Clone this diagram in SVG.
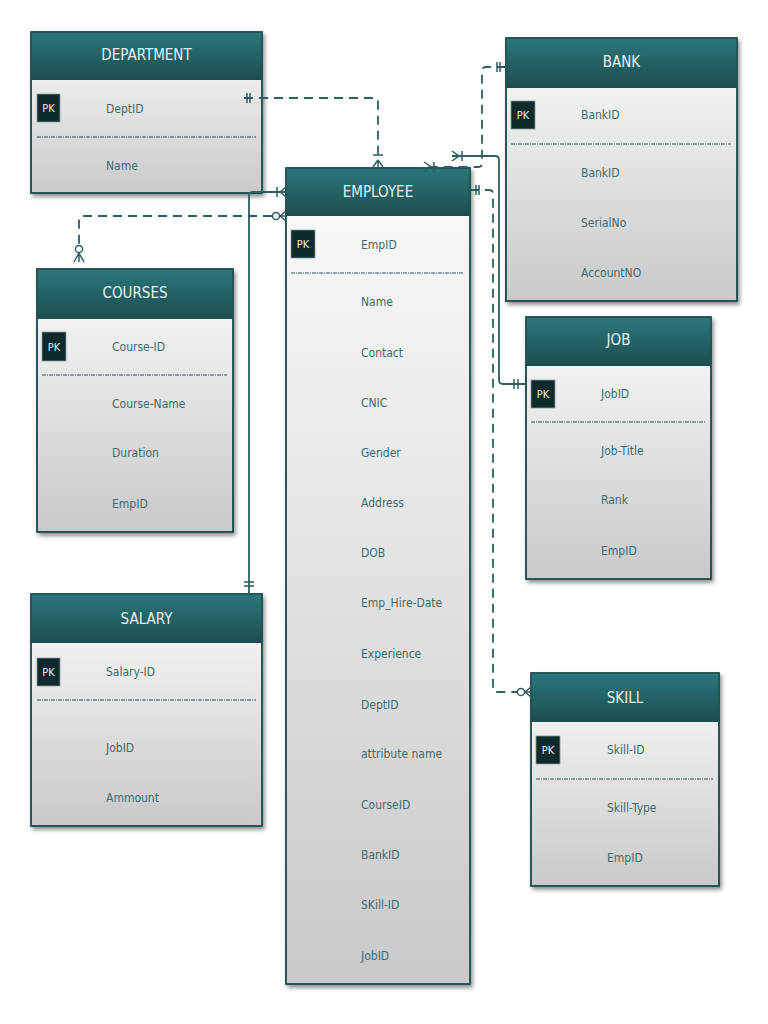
<svg xmlns="http://www.w3.org/2000/svg" width="768" height="1024" viewBox="0 0 768 1024">
<defs>
<linearGradient id="hg" x1="0" y1="0" x2="0" y2="1"><stop offset="0" stop-color="#2b777c"/><stop offset="1" stop-color="#1c4d50"/></linearGradient>
<linearGradient id="bg" x1="0" y1="0" x2="0" y2="1"><stop offset="0" stop-color="#fbfbfb"/><stop offset="1" stop-color="#c9c9c9"/></linearGradient>
<filter id="sh" x="-10%" y="-10%" width="130%" height="130%"><feDropShadow dx="2" dy="3" stdDeviation="2" flood-color="#000" flood-opacity="0.45"/></filter>
<style>
.body{fill:url(#bg);stroke:#1f4e50;stroke-width:1.5}
.head{fill:url(#hg)}
.ht{font-family:"DejaVu Sans Condensed","DejaVu Sans",sans-serif;font-stretch:condensed;font-size:15px;fill:#e6f0f0;text-anchor:middle}
.at{font-family:"DejaVu Sans Condensed","DejaVu Sans",sans-serif;font-stretch:condensed;font-size:12px;fill:#3e6c6e}
.pk{fill:#0f2a2a;stroke:#8a9a9a;stroke-width:0.8}
.pkt{font-family:"DejaVu Sans Condensed","DejaVu Sans",sans-serif;font-stretch:condensed;font-size:11px;fill:#e8eeee;text-anchor:middle}
.sep{stroke:#2d5456;stroke-width:1;stroke-dasharray:4,1,1,1}
.c{fill:none;stroke:#2d5e60;stroke-width:1.8}
.d{fill:none;stroke:#2d5e60;stroke-width:1.8;stroke-dasharray:9,6}
.m{fill:none;stroke:#2d5e60;stroke-width:1.5}
.o{fill:#fff;stroke:#2d5e60;stroke-width:1.5}
</style>
</defs>
<rect width="768" height="1024" fill="#ffffff"/>

<g id="department">
<rect x="31" y="32" width="231" height="161" class="body" filter="url(#sh)"/>
<rect x="31" y="32" width="231" height="48" class="head"/>
<rect x="31" y="32" width="231" height="161" fill="none" stroke="#1f4e50" stroke-width="1.5"/>
<text x="146.5" y="60" class="ht">DEPARTMENT</text>
<rect x="37" y="94" width="23" height="28" class="pk"/><text x="48.5" y="112" class="pkt">PK</text>
<text x="106" y="113" class="at">DeptID</text>
<line x1="37" y1="137" x2="256" y2="137" class="sep"/>
<text x="106" y="170" class="at">Name</text>
</g>

<g id="employee">
<rect x="286" y="168" width="184" height="816" class="body" filter="url(#sh)"/>
<rect x="286" y="168" width="184" height="48" class="head"/>
<rect x="286" y="168" width="184" height="816" fill="none" stroke="#1f4e50" stroke-width="1.5"/>
<text x="378" y="197" class="ht">EMPLOYEE</text>
<rect x="291" y="230" width="24" height="28" class="pk"/><text x="303" y="248" class="pkt">PK</text>
<text x="361" y="249" class="at">EmpID</text>
<line x1="291" y1="273" x2="464" y2="273" class="sep"/>
<text x="361" y="306" class="at">Name</text>
<text x="361" y="357" class="at">Contact</text>
<text x="361" y="407" class="at">CNIC</text>
<text x="361" y="457" class="at">Gender</text>
<text x="361" y="507" class="at">Address</text>
<text x="361" y="557" class="at">DOB</text>
<text x="361" y="607" class="at">Emp_Hire-Date</text>
<text x="361" y="658" class="at">Experience</text>
<text x="361" y="709" class="at">DeptID</text>
<text x="361" y="758" class="at">attribute name</text>
<text x="361" y="809" class="at">CourseID</text>
<text x="361" y="859" class="at">BankID</text>
<text x="361" y="909" class="at">SKill-ID</text>
<text x="361" y="960" class="at">JobID</text>
</g>

<g id="bank">
<rect x="506" y="38" width="231" height="263" class="body" filter="url(#sh)"/>
<rect x="506" y="38" width="231" height="50" class="head"/>
<rect x="506" y="38" width="231" height="263" fill="none" stroke="#1f4e50" stroke-width="1.5"/>
<text x="621.5" y="67" class="ht">BANK</text>
<rect x="511" y="101" width="24" height="28" class="pk"/><text x="523" y="119" class="pkt">PK</text>
<text x="581" y="119" class="at">BankID</text>
<line x1="511" y1="144" x2="731" y2="144" class="sep"/>
<text x="581" y="177" class="at">BankID</text>
<text x="581" y="227" class="at">SerialNo</text>
<text x="581" y="277" class="at">AccountNO</text>
</g>

<g id="courses">
<rect x="37" y="269" width="196" height="263" class="body" filter="url(#sh)"/>
<rect x="37" y="269" width="196" height="50" class="head"/>
<rect x="37" y="269" width="196" height="263" fill="none" stroke="#1f4e50" stroke-width="1.5"/>
<text x="135" y="298" class="ht">COURSES</text>
<rect x="42" y="332" width="24" height="29" class="pk"/><text x="54" y="351" class="pkt">PK</text>
<text x="112" y="351" class="at">Course-ID</text>
<line x1="42" y1="375" x2="227" y2="375" class="sep"/>
<text x="112" y="408" class="at">Course-Name</text>
<text x="112" y="457" class="at">Duration</text>
<text x="112" y="508" class="at">EmpID</text>
</g>

<g id="job">
<rect x="526" y="317" width="185" height="262" class="body" filter="url(#sh)"/>
<rect x="526" y="317" width="185" height="49" class="head"/>
<rect x="526" y="317" width="185" height="262" fill="none" stroke="#1f4e50" stroke-width="1.5"/>
<text x="618.5" y="345" class="ht">JOB</text>
<rect x="531" y="380" width="24" height="28" class="pk"/><text x="543" y="398" class="pkt">PK</text>
<text x="601" y="398" class="at">JobID</text>
<line x1="531" y1="422" x2="705" y2="422" class="sep"/>
<text x="601" y="455" class="at">Job-Title</text>
<text x="601" y="504" class="at">Rank</text>
<text x="601" y="555" class="at">EmpID</text>
</g>

<g id="salary">
<rect x="31" y="594" width="231" height="232" class="body" filter="url(#sh)"/>
<rect x="31" y="594" width="231" height="49" class="head"/>
<rect x="31" y="594" width="231" height="232" fill="none" stroke="#1f4e50" stroke-width="1.5"/>
<text x="146.5" y="624" class="ht">SALARY</text>
<rect x="37" y="658" width="23" height="28" class="pk"/><text x="48.5" y="676" class="pkt">PK</text>
<text x="106" y="676" class="at">Salary-ID</text>
<line x1="37" y1="700" x2="256" y2="700" class="sep"/>
<text x="106" y="752" class="at">JobID</text>
<text x="106" y="802" class="at">Ammount</text>
</g>

<g id="skill">
<rect x="531" y="673" width="188" height="213" class="body" filter="url(#sh)"/>
<rect x="531" y="673" width="188" height="49" class="head"/>
<rect x="531" y="673" width="188" height="213" fill="none" stroke="#1f4e50" stroke-width="1.5"/>
<text x="625" y="703" class="ht">SKILL</text>
<rect x="536" y="736" width="24" height="28" class="pk"/><text x="548" y="754" class="pkt">PK</text>
<text x="607" y="754" class="at">Skill-ID</text>
<line x1="536" y1="779" x2="713" y2="779" class="sep"/>
<text x="607" y="812" class="at">Skill-Type</text>
<text x="607" y="862" class="at">EmpID</text>
</g>

<g id="connectors">
<!-- Department - Employee -->
<path d="M244 98 H374 Q378 98 378 102 V162" class="d"/>
<path d="M247 93 V103 M250 93 V103" class="m"/>
<path d="M373 155 H383 M378 160 L373 167 M378 160 V167 M378 160 L383 167" class="m"/>
<!-- Bank - Employee (dashed) -->
<path d="M506 67 H486 Q482 67 482 71 V163 Q482 167 478 167 H424" class="d"/>
<path d="M497 62 V72 M500 62 V72" class="m"/>
<path d="M424 162 L431 167 L424 172 M434 162 V172" class="m"/>
<!-- Job - solid -->
<path d="M526 384 H503 Q499 384 499 380 V160 Q499 156 495 156 H452" class="c"/>
<path d="M514 379 V389 M518 379 V389" class="m"/>
<path d="M452 151 L459 156 L452 161 M462 151 V161" class="m"/>
<!-- Employee - Skill -->
<path d="M470 190 H489 Q493 190 493 194 V688 Q493 692 497 692 H517" class="d"/>
<path d="M476 185 V195 M479 185 V195" class="m"/>
<path d="M525 692 L531 687 M525 692 H531 M525 692 L531 697" class="m"/>
<circle cx="521" cy="692" r="3.6" class="o"/>
<!-- Employee - Courses -->
<path d="M272 216 H83 Q79 216 79 220 V244" class="d"/>
<path d="M280 216 L286 211 M280 216 H286 M280 216 L286 221" class="m"/>
<circle cx="276" cy="216" r="3.6" class="o"/>
<path d="M79 253 L74 262 M79 253 V262 M79 253 L84 262" class="m"/>
<circle cx="79" cy="249" r="3.6" class="o"/>
<!-- Employee - Salary -->
<path d="M286 192 H253 Q249 192 249 196 V594" class="c"/>
<path d="M280 192 L286 187 M280 192 L286 197 M277 187 V197" class="m"/>
<path d="M244 582 H254 M244 586 H254" class="m"/>
</g>
</svg>
